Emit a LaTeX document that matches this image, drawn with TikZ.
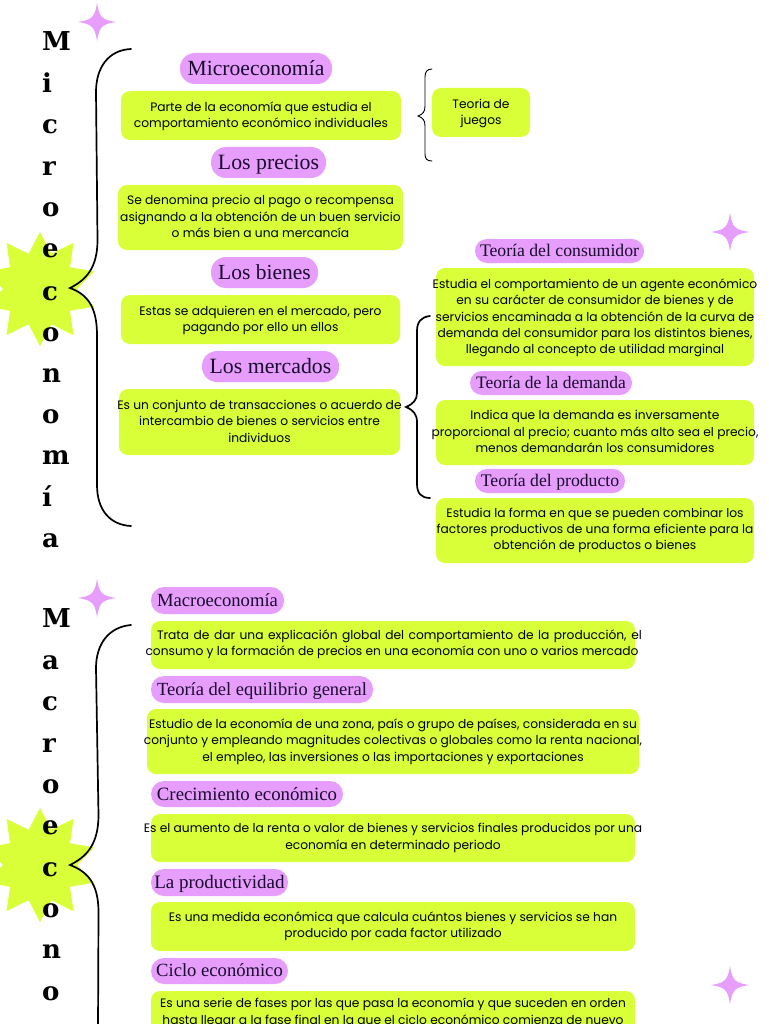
\documentclass[tikz,border=0pt]{standalone}
\usepackage{fontspec}
\setmainfont{Poppins}
\newfontfamily\labelfont{Liberation Serif}
\newfontfamily\titlefont{DejaVu Serif}[BoldFont={DejaVu Serif Bold}]
\definecolor{limec}{HTML}{D9FF38}
\definecolor{pinkc}{HTML}{E69DFB}
\definecolor{inkc}{HTML}{1A0B2E}
\tikzset{
  greenbox/.style={fill=limec, rounded corners=9pt},
  bodytext/.style={align=center, inner sep=0pt, text=black, font=\fontsize{12.25}{16.4}\selectfont},
  pilltext/.style={inner sep=0pt, text=inkc},
  titleletter/.style={anchor=base west, inner sep=0pt, font=\titlefont\bfseries\fontsize{26}{26}\selectfont},
  mainbrace/.style={draw=black, line width=1.7pt, line cap=round, fill=none},
  sparkle/.style={fill=pinkc},
  burst/.style={fill=limec}
}
\newcommand{\gbox}[7][0]{%
  \fill[greenbox] (#3,#4) rectangle (#5,#6);
  \node[bodytext] (#2) at ({(#3+#5)/2},{(#4+#6)/2+#1}) {#7};}
\newcommand{\pillbox}[7]{%
  \fill[pinkc, rounded corners=#7] (#2,#3) rectangle (#4,#5);
  \node[pilltext] (#1) at ({(#2+#4)/2},{(#3+#5)/2}) {\labelfont\fontsize{#6}{#6}\selectfont\vphantom{Ápg}#1};}
\newcommand{\sparkleat}[3]{%
  \fill[sparkle] (#1,#2-#3) .. controls (#1+0.12*#3,#2-0.25*#3) and (#1+0.25*#3,#2-0.12*#3) .. (#1+#3,#2)
   .. controls (#1+0.25*#3,#2+0.12*#3) and (#1+0.12*#3,#2+0.25*#3) .. (#1,#2+#3)
   .. controls (#1-0.12*#3,#2+0.25*#3) and (#1-0.25*#3,#2+0.12*#3) .. (#1-#3,#2)
   .. controls (#1-0.25*#3,#2-0.12*#3) and (#1-0.12*#3,#2-0.25*#3) .. cycle;}
\newcommand{\burstat}[2]{%
  \fill[burst] (#1,#2-57)
  \foreach \a in {0,...,9} {
    -- ({#1+37*cos(72-\a*36)},{#2-37*sin(72-\a*36)})
    -- ({#1+57*cos(54-\a*36)},{#2-57*sin(54-\a*36)})
  } -- cycle;}
\newcommand{\titlecol}[3]{%
  \foreach \l/\y [count=\i] in {#3} {
    \node[titleletter] (#1\i) at (#2,\y) {\l};
  }}
\begin{document}
\begin{tikzpicture}[x=1pt,y=-1pt]
\clip (0,0) rectangle (768,1024);
\fill[white] (0,0) rectangle (768,1024);

% decorations
\burstat{40}{289}
\burstat{40}{865}
\sparkleat{97}{22}{19}
\sparkleat{730}{232}{19}
\sparkleat{97}{598}{19}
\sparkleat{730}{985}{19}

% vertical titles
\titlecol{mi}{42}{M/51,i/93,c/134,r/176,o/217,e/258,c/300,o/341,n/382,o/423,m/464,í/506,a/547}
\titlecol{ma}{42}{M/627,a/669,c/710,r/752,o/793,e/834,c/876,o/917,n/958,o/1000,m/1038}

% braces
\draw[mainbrace] (131,49) .. controls (108,50) and (96,68) .. (96,92)
  -- (97.5,240) .. controls (97.5,268) and (86,280) .. (70,288)
  .. controls (86,294) and (97,305) .. (97,335)
  -- (97,485) .. controls (97,510) and (110,525) .. (131,526);
\draw[mainbrace] (131,625) .. controls (108,627) and (96,645) .. (96,668)
  -- (98.5,815) .. controls (98.5,845) and (86,857) .. (70,865)
  .. controls (86,871) and (98.5,882) .. (98.5,912)
  -- (98,1030);
\draw[black, line width=0.9pt, line cap=round] (432,69) .. controls (427,69) and (425,72) .. (425,77)
  -- (425,106) .. controls (425,112) and (423,114) .. (418,116)
  .. controls (423,118) and (425,120) .. (425,126)
  -- (425,154) .. controls (425,159) and (427,161) .. (432,161);
\draw[black, line width=1.7pt, line cap=round] (430,316) .. controls (421,317) and (417,322) .. (417,331)
  -- (417,393) .. controls (417,400) and (413,404) .. (406,407)
  .. controls (413,410) and (417,414) .. (417,422)
  -- (417,484) .. controls (417,493) and (421,498) .. (430,498);

% Microeconomia column
\pillbox{Microeconomía}{180}{53}{332}{84}{21.6}{15pt}
\gbox[1]{b1}{121}{91}{401}{140}{Parte de la economía que estudia el\\comportamiento económico individuales}
\pillbox{Los precios}{211}{147}{326}{178}{21.8}{15pt}
\gbox[-1]{b2}{118}{185}{403}{250}{Se denomina precio al pago o recompensa\\asignando a la obtención de un buen servicio\\o más bien a una mercancía}
\pillbox{Los bienes}{211}{257}{318}{288}{21.5}{15pt}
\gbox[1]{b3}{121}{295}{400}{344}{Estas se adquieren en el mercado, pero\\pagando por ello un ellos}
\pillbox{Los mercados}{202}{351}{339}{382}{21.8}{15pt}
\gbox[-1]{b4}{119}{389}{400}{455}{Es un conjunto de transacciones o acuerdo de\\intercambio de bienes o servicios entre\\individuos}
\gbox[1]{b5}{432}{88}{530}{137}{Teoria de\\juegos}

% right column
\pillbox{Teoría del consumidor}{475}{239}{644}{263}{17.7}{12pt}
\gbox[1]{b6}{436}{268}{754}{366}{Estudia el comportamiento de un agente económico\\en su carácter de consumidor de bienes y de\\servicios encaminada a la obtención de la curva de\\demanda del consumidor para los distintos bienes,\\llegando al concepto de utilidad marginal}
\pillbox{Teoría de la demanda}{470}{371}{632}{395}{17.5}{12pt}
\gbox[-1]{b7}{436}{400}{754}{465}{Indica que la demanda es inversamente\\proporcional al precio; cuanto más alto sea el precio,\\menos demandarán los consumidores}
\pillbox{Teoría del producto}{475}{469}{625}{493}{17.7}{12pt}
\gbox{b8}{436}{498}{754}{563}{Estudia la forma en que se pueden combinar los\\factores productivos de una forma eficiente para la\\obtención de productos o bienes}

% Macroeconomia column
\pillbox{Macroeconomía}{151}{587}{284}{614}{18.6}{13pt}
\fill[greenbox] (151,621) rectangle (635,669);
\node[bodytext] (b9a) at (399.5,636) {\makebox[485pt][s]{Trata de dar una explicación global del comportamiento de la producción, el}};
\node[bodytext] (b9b) at (392,652) {consumo y la formación de precios en una economía con uno o varios mercado};
\pillbox{Teoría del equilibrio general}{151}{676}{373}{703}{18.5}{13pt}
\gbox{b10}{147}{709}{639}{774}{Estudio de la economía de una zona, país o grupo de países, considerada en su\\conjunto y empleando magnitudes colectivas o globales como la renta nacional,\\el empleo, las inversiones o las importaciones y exportaciones}
\pillbox{Crecimiento económico}{151}{781}{343}{807}{18.8}{13pt}
\gbox{b11}{151}{814}{635}{862}{Es el aumento de la renta o valor de bienes y servicios finales producidos por una\\economía en determinado periodo}
\pillbox{La productividad}{151}{869}{288}{896}{19}{13pt}
\gbox{b12}{151}{902}{635}{951}{Es una medida económica que calcula cuántos bienes y servicios se han\\producido por cada factor utilizado}
\pillbox{Ciclo económico}{151}{958}{288}{984}{18.6}{13pt}
\fill[greenbox] (151,991) rectangle (635,1060);
\node[bodytext, anchor=north] (b13) at (393,998) {Es una serie de fases por las que pasa la economía y que suceden en orden\\hasta llegar a la fase final en la que el ciclo económico comienza de nuevo};
\end{tikzpicture}
\end{document}
